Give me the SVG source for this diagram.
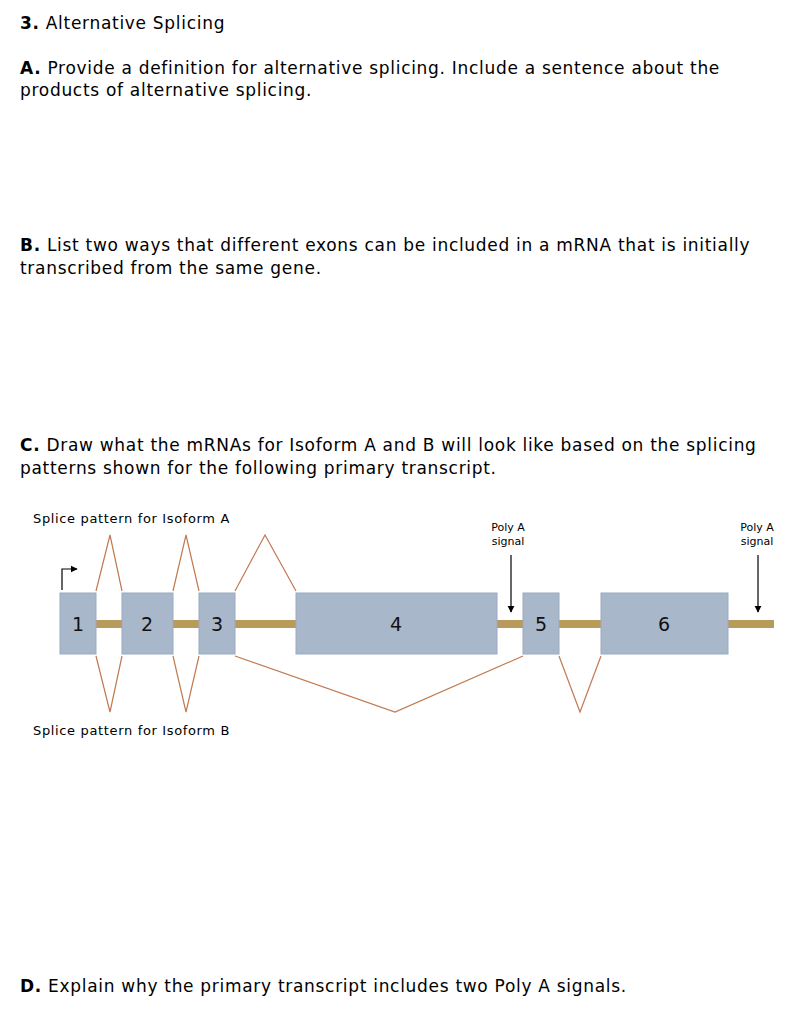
<svg xmlns="http://www.w3.org/2000/svg" width="812" height="1024" viewBox="0 0 812 1024">
<style>
.t{font-family:"DejaVu Sans",Verdana,sans-serif;font-size:17px;fill:#000;letter-spacing:0.7px}
.s{font-family:"DejaVu Sans",Verdana,sans-serif;font-size:13px;fill:#000;letter-spacing:0.65px}
.p{font-family:"DejaVu Sans",Verdana,sans-serif;font-size:11px;fill:#000;text-anchor:middle}
.ex rect{fill:#a9b7cb;stroke:#9aaac0;stroke-width:1}
.ex text{font-family:"DejaVu Sans",Verdana,sans-serif;font-size:19px;text-anchor:middle;fill:#111}
.sp{fill:none;stroke:#c07a50;stroke-width:1.2}
.ar{stroke:#000;stroke-width:1.2;fill:none}
</style>
<defs><marker id="ah" viewBox="0 0 10 10" refX="9" refY="5" markerWidth="6" markerHeight="6" orient="auto"><path d="M0,0L10,5L0,10z" fill="#000"/></marker></defs>
<rect width="812" height="1024" fill="#fff"/>
<text class="t" x="20" y="29"><tspan font-weight="bold">3.</tspan> Alternative Splicing</text>
<text class="t" x="20" y="74"><tspan font-weight="bold">A.</tspan> Provide a definition for alternative splicing. Include a sentence about the</text>
<text class="t" x="20" y="96">products of alternative splicing.</text>
<text class="t" x="20" y="251"><tspan font-weight="bold">B.</tspan> List two ways that different exons can be included in a mRNA that is initially</text>
<text class="t" x="20" y="274">transcribed from the same gene.</text>
<text class="t" x="20" y="451"><tspan font-weight="bold">C.</tspan> Draw what the mRNAs for Isoform A and B will look like based on the splicing</text>
<text class="t" x="20" y="474">patterns shown for the following primary transcript.</text>
<text class="t" x="20" y="992"><tspan font-weight="bold">D.</tspan> Explain why the primary transcript includes two Poly A signals.</text>
<text class="s" x="33" y="523">Splice pattern for Isoform A</text>
<text class="s" x="33" y="735">Splice pattern for Isoform B</text>
<text class="p" x="508" y="531">Poly A</text><text class="p" x="508" y="545">signal</text>
<text class="p" x="757" y="531">Poly A</text><text class="p" x="757" y="545">signal</text>
<rect id="intron" x="96" y="620" width="678" height="8" fill="#b89a5a"/>
<g id="exon1" class="ex"><rect x="60" y="593" width="36" height="61"/><text x="78" y="631">1</text></g>
<g id="exon2" class="ex"><rect x="122" y="593" width="51" height="61"/><text x="147" y="631">2</text></g>
<g id="exon3" class="ex"><rect x="199" y="593" width="36" height="61"/><text x="217" y="631">3</text></g>
<g id="exon4" class="ex"><rect x="296" y="593" width="201" height="61"/><text x="396" y="631">4</text></g>
<g id="exon5" class="ex"><rect x="523" y="593" width="36" height="61"/><text x="541" y="631">5</text></g>
<g id="exon6" class="ex"><rect x="601" y="593" width="127" height="61"/><text x="664" y="631">6</text></g>
<g id="connectors">
<polyline class="sp" points="96,591 110,535 122,591"/>
<polyline class="sp" points="173,591 186,535 199,591"/>
<polyline class="sp" points="235,591 265,535 296,591"/>
<polyline class="sp" points="96,656 110,712 122,656"/>
<polyline class="sp" points="173,656 186,712 199,656"/>
<polyline class="sp" points="235,656 395,712 523,656"/>
<polyline class="sp" points="559,656 580,712 601,656"/>
<line class="ar" x1="511" y1="555" x2="511" y2="612" marker-end="url(#ah)"/>
<line class="ar" x1="758" y1="555" x2="758" y2="612" marker-end="url(#ah)"/>
<polyline class="ar" points="62,590 62,569 77,569" marker-end="url(#ah)"/>
</g>
</svg>
